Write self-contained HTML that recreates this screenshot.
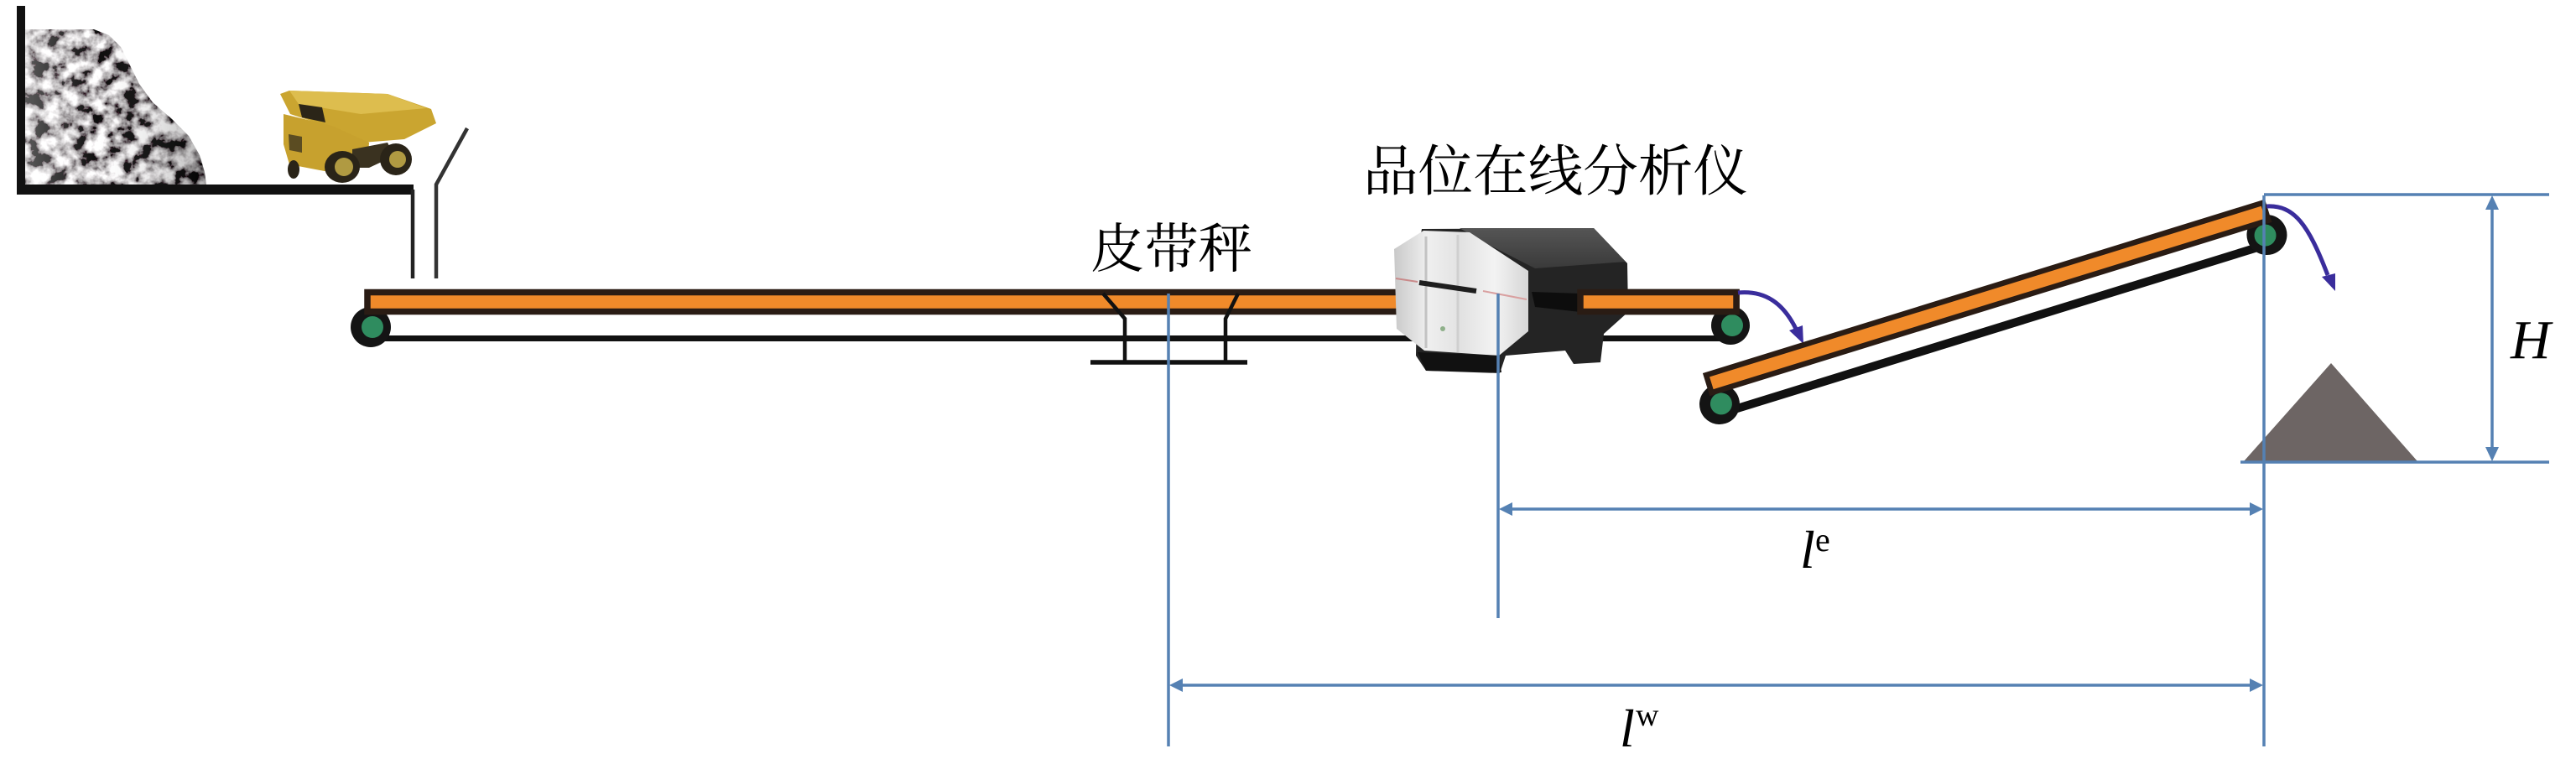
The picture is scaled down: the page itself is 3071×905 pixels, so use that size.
<!DOCTYPE html>
<html>
<head>
<meta charset="utf-8">
<style>
  html,body{margin:0;padding:0;background:#fff;}
  body{width:3071px;height:905px;overflow:hidden;}
  svg{display:block;}
  .cjk{font-family:"Liberation Serif","Noto Serif CJK SC","Noto Sans CJK SC",serif;fill:#000;}
  .mth{font-family:"Liberation Serif",serif;font-style:italic;fill:#000;}
  .sup{font-family:"Liberation Serif",serif;fill:#000;}
</style>
</head>
<body>
<svg width="3071" height="905" viewBox="0 0 3071 905" xmlns="http://www.w3.org/2000/svg">
  <defs>
    <filter id="rock" x="0" y="0" width="1" height="1" filterUnits="objectBoundingBox">
      <feTurbulence type="fractalNoise" baseFrequency="0.055" numOctaves="4" seed="11" result="n"/>
      <feColorMatrix in="n" type="matrix" values="3.0 0 0 0 -1.05  3.0 0 0 0 -1.07  3.0 0 0 0 -1.06  0 0 0 0 1" result="g"/>
      <feComposite in="g" in2="SourceGraphic" operator="in"/>
    </filter>
    <linearGradient id="rockShade" x1="0" y1="0" x2="1" y2="0">
      <stop offset="0" stop-color="#ffffff" stop-opacity="0.35"/>
      <stop offset="0.4" stop-color="#ffffff" stop-opacity="0.05"/>
      <stop offset="1" stop-color="#000000" stop-opacity="0.3"/>
    </linearGradient>
    <linearGradient id="silver" x1="0" y1="0" x2="1" y2="0">
      <stop offset="0" stop-color="#c9c9c9"/>
      <stop offset="0.25" stop-color="#efefef"/>
      <stop offset="0.5" stop-color="#e2e2e2"/>
      <stop offset="0.75" stop-color="#f3f3f3"/>
      <stop offset="1" stop-color="#d6d6d6"/>
    </linearGradient>
    <linearGradient id="darktop" x1="0" y1="0" x2="0" y2="1">
      <stop offset="0" stop-color="#555"/>
      <stop offset="1" stop-color="#3a3a3a"/>
    </linearGradient>
  </defs>

  <!-- wall / ground -->
  <rect x="20" y="7" width="10" height="225" fill="#111"/>
  <rect x="20" y="220" width="473" height="12" fill="#111"/>
  <line x1="492" y1="226" x2="492" y2="332" stroke="#222" stroke-width="4.5"/>
  <polyline points="520,332 520,220 557,153" fill="none" stroke="#333" stroke-width="4.5"/>

  <!-- rock pile -->
  <polygon points="30,35 112,35 130,42 144,56 155,78 166,100 182,122 205,142 225,162 238,185 244,205 246,220 30,220" fill="#7a7570" filter="url(#rock)"/>
  <polygon points="30,35 112,35 130,42 144,56 155,78 166,100 182,122 205,142 225,162 238,185 244,205 246,220 30,220" fill="url(#rockShade)"/>

  <!-- truck -->
  <g>
    <polygon points="334,112 345,108 462,112 514,130 520,147 482,166 432,170 395,152 346,136" fill="#caa530"/>
    <polygon points="345,108 462,112 508,129 430,136 356,124" fill="#ddbd4e"/>
    <polygon points="338,136 396,150 440,170 438,198 392,205 345,196 338,172" fill="#c7a12e"/>
    <polygon points="356,124 384,128 388,146 360,140" fill="#2b2518"/>
    <polygon points="344,160 360,163 360,182 345,179" fill="#5b4c22"/>
    <polygon points="420,178 462,170 470,186 440,200 420,200" fill="#3a3220"/>
    <ellipse cx="408" cy="199" rx="21" ry="19" fill="#2a2418"/>
    <ellipse cx="410" cy="199" rx="11" ry="11" fill="#b09a42"/>
    <ellipse cx="472" cy="190" rx="19" ry="19" fill="#2a2418"/>
    <ellipse cx="474" cy="190" rx="10" ry="10" fill="#b09a42"/>
    <ellipse cx="350" cy="202" rx="7" ry="11" fill="#2a2418"/>
  </g>

  <!-- belt 1 -->
  <line x1="442" y1="403.5" x2="2063" y2="403.5" stroke="#111" stroke-width="7"/>
  <circle cx="442" cy="390" r="24" fill="#141414"/>
  <circle cx="444" cy="390" r="13" fill="#2f8c5f"/>
  <circle cx="2063" cy="388" r="23" fill="#141414"/>
  <circle cx="2065" cy="388" r="13" fill="#2f8c5f"/>
  <rect x="438" y="348.5" width="1632" height="23" fill="#f08a2a" stroke="#2a1c14" stroke-width="7.5"/>

  <!-- belt scale -->
  <polyline points="1315,350 1341,380 1341,432" fill="none" stroke="#111" stroke-width="4.5"/>
  <polyline points="1476,350 1461,380 1461,432" fill="none" stroke="#111" stroke-width="4.5"/>
  <line x1="1300" y1="432" x2="1487" y2="432" stroke="#111" stroke-width="5.5"/>

  <!-- analyzer -->
  <g>
    <polygon points="1695,273 1900,272 1940,314 1941,372 1912,398 1908,432 1876,434 1866,418 1795,424 1788,445 1700,442 1688,424 1690,300" fill="#242424"/>
    <polygon points="1740,272 1900,272 1938,312 1830,320 1775,292" fill="url(#darktop)"/>
    <polygon points="1662,297 1697,275 1752,277 1822,323 1822,395 1787,424 1698,418 1665,392" fill="url(#silver)"/>
    <line x1="1700" y1="282" x2="1700" y2="415" stroke="#c2c2c2" stroke-width="3"/>
    <line x1="1738" y1="280" x2="1738" y2="420" stroke="#cfcfcf" stroke-width="3"/>
    <line x1="1692" y1="337" x2="1760" y2="347" stroke="#1e1e1e" stroke-width="6"/>
    <line x1="1664" y1="332" x2="1690" y2="336" stroke="#c98a8a" stroke-width="2"/>
    <line x1="1768" y1="347" x2="1820" y2="357" stroke="#d9a0a0" stroke-width="2"/>
    <circle cx="1720" cy="392" r="3" fill="#8fb08a"/>
    <polygon points="1690,420 1787,424 1790,444 1700,442" fill="#111"/>
    <polygon points="1826,348 1884,350 1884,372 1830,366" fill="#0d0d0d"/>
  </g>
  <!-- belt 1 exiting analyzer -->
  <rect x="1884" y="348.5" width="186" height="23" fill="#f08a2a" stroke="#2a1c14" stroke-width="7.5"/>

  <!-- curved arrow 1 -->
  <path d="M2072,349 C2105,346 2126,362 2141,392" fill="none" stroke="#3a2d9c" stroke-width="5"/>
  <polygon points="2150,410 2133,394 2149,388" fill="#3a2d9c"/>

  <!-- belt 2 (inclined) -->
  <g transform="translate(2050,482) rotate(-17.2)">
    <line x1="0" y1="11" x2="683" y2="11" stroke="#111" stroke-width="10"/>
    <circle cx="0" cy="0" r="24" fill="#141414"/>
    <circle cx="2" cy="0" r="13" fill="#2f8c5f"/>
    <circle cx="683" cy="0" r="24" fill="#141414"/>
    <circle cx="681" cy="0" r="13" fill="#2f8c5f"/>
    <rect x="-5" y="-38" width="695" height="22" fill="#f08a2a" stroke="#2a1c14" stroke-width="6.5"/>
  </g>

  <!-- curved arrow 2 -->
  <path d="M2702,246 C2735,244 2752,268 2775,328" fill="none" stroke="#3a2d9c" stroke-width="5"/>
  <polygon points="2784,347 2768,330 2784,326" fill="#3a2d9c"/>

  <!-- pile triangle -->
  <polygon points="2779,433 2675,550 2882,550" fill="#6d6564"/>

  <!-- dimension lines -->
  <g stroke="#5581b3" stroke-width="3.5" fill="none">
    <line x1="1393" y1="350" x2="1393" y2="890"/>
    <line x1="1786" y1="350" x2="1786" y2="737"/>
    <line x1="2699" y1="233" x2="2699" y2="890"/>
    <line x1="2699" y1="232" x2="3039" y2="232"/>
    <line x1="2671" y1="551" x2="3039" y2="551"/>
    <line x1="2971" y1="240" x2="2971" y2="543"/>
    <line x1="1798" y1="607" x2="2688" y2="607"/>
    <line x1="1405" y1="817" x2="2688" y2="817"/>
  </g>
  <g fill="#5581b3">
    <polygon points="1787,607 1803,599 1803,615"/>
    <polygon points="2698,607 2682,599 2682,615"/>
    <polygon points="1394,817 1410,809 1410,825"/>
    <polygon points="2698,817 2682,809 2682,825"/>
    <polygon points="2971,233 2963,250 2979,250"/>
    <polygon points="2971,550 2963,533 2979,533"/>
  </g>

  <!-- labels -->
  <text class="cjk" x="1300" y="319" font-size="64" textLength="193" lengthAdjust="spacingAndGlyphs">皮带秤</text>
  <text class="cjk" x="1625" y="227" font-size="66" textLength="459" lengthAdjust="spacingAndGlyphs">品位在线分析仪</text>
  <text class="mth" x="2993" y="427" font-size="66">H</text>
  <text class="mth" x="2146" y="677" font-size="64">l</text>
  <text class="sup" x="2164" y="657" font-size="40">e</text>
  <text class="mth" x="1931" y="890" font-size="64">l</text>
  <text class="sup" x="1950" y="865" font-size="38">w</text>
</svg>
</body>
</html>
